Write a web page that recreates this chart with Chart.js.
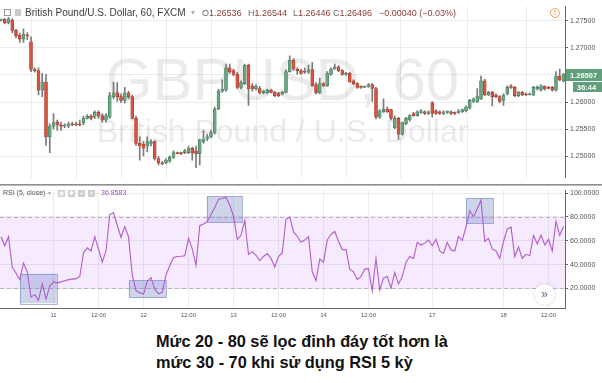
<!DOCTYPE html>
<html><head><meta charset="utf-8">
<script src="https://cdn.jsdelivr.net/npm/chart.js@4.4.1/dist/chart.umd.min.js"></script>
<style>
html,body{margin:0;padding:0;background:#fff;width:602px;height:383px;overflow:hidden;font-family:"Liberation Sans",Arial,sans-serif;}
#wrap{position:relative;width:602px;height:383px;}
canvas{position:absolute;left:0;}
#pc{top:0;}
#rc{top:184px;}
.t{position:absolute;white-space:nowrap;}
.ic{position:absolute;width:7px;height:7px;background:#cfcfcf;color:#fff;font-size:6px;line-height:7px;text-align:center;}
</style></head>
<body><div id="wrap">
<canvas id="pc" width="602" height="184"></canvas>
<canvas id="rc" width="602" height="142"></canvas>

<div class="t" style="left:4px;top:9px;width:5px;height:5px;border:1px solid #9a9a9a;"></div>
<div class="t" style="left:15px;top:9px;width:6px;height:7px;background:#c9c9c9;"></div>
<div class="t" style="left:25px;top:7px;font-size:10px;color:#3d3d3d;">British Pound/U.S. Dollar, 60, FXCM</div>
<div class="t" style="left:191px;top:8px;font-size:8px;color:#b0b0b0;">▾</div>
<div class="t" style="left:202px;top:8px;font-size:9px;color:#8d3b37;"><span style="color:#6a6a6a">O</span>1.26536</div>
<div class="t" style="left:248px;top:8px;font-size:9px;color:#8d3b37;"><span style="color:#6a6a6a">H</span>1.26544</div>
<div class="t" style="left:293px;top:8px;font-size:9px;color:#8d3b37;"><span style="color:#6a6a6a">L</span>1.26446</div>
<div class="t" style="left:333px;top:8px;font-size:9px;color:#8d3b37;"><span style="color:#6a6a6a">C</span>1.26496</div>
<div class="t" style="left:379px;top:8px;font-size:9px;color:#8d3b37;">−0.00040 (−0.03%)</div>
<div class="t" style="left:550px;top:8px;width:8px;height:8px;border:1.2px solid #f0a35a;border-radius:50%;color:#f0a35a;font-size:7px;line-height:8px;text-align:center;font-weight:bold;">!</div>

<div class="t" style="left:3px;top:189px;font-size:7px;color:#555;">RSI (5, close)</div>
<div class="t" style="left:48px;top:189px;font-size:6px;color:#aaa;">▾</div>
<div class="ic" style="left:58px;top:190px;">◉</div>
<div class="ic" style="left:68px;top:190px;">✱</div>
<div class="ic" style="left:78px;top:190px;">+</div>
<div class="ic" style="left:88px;top:190px;">×</div>
<div class="t" style="left:101px;top:189px;font-size:7px;color:#a24cc0;">36.8583</div>
<div class="t" style="left:534px;top:284px;width:21px;height:21px;border-radius:50%;background:#fff;box-shadow:0 0 2px rgba(0,0,0,0.25);color:#5d6f8a;font-size:12px;line-height:20px;text-align:center;">»</div>

<div class="t" style="left:156px;top:331px;font-weight:bold;font-size:17px;line-height:21px;color:#111;transform:scaleX(0.96);transform-origin:0 0;">Mức 20 - 80 sẽ lọc đỉnh đáy tốt hơn là<br>mức 30 - 70 khi sử dụng RSI 5 kỳ</div>
</div>
<script>
// ---- data (hourly GBP/USD candles) ----
const openP  = [1.2751,1.2753,1.2746,1.2751,1.2732,1.2723,1.2716,1.2723,1.2711,1.2660,1.2658,1.2622,1.2637,1.2536,1.2555,1.2563,1.2558,1.2556,1.2556,1.2560,1.2560,1.2560,1.2562,1.2570,1.2574,1.2572,1.2581,1.2575,1.2567,1.2572,1.2610,1.2617,1.2610,1.2603,1.2617,1.2610,1.2570,1.2524,1.2522,1.2519,1.2524,1.2527,1.2496,1.2488,1.2488,1.2491,1.2498,1.2507,1.2507,1.2507,1.2507,1.2515,1.2510,1.2505,1.2527,1.2532,1.2536,1.2543,1.2587,1.2620,1.2622,1.2663,1.2658,1.2651,1.2627,1.2634,1.2668,1.2630,1.2624,1.2625,1.2617,1.2617,1.2622,1.2618,1.2617,1.2615,1.2618,1.2656,1.2677,1.2661,1.2658,1.2656,1.2655,1.2660,1.2632,1.2617,1.2634,1.2630,1.2651,1.2661,1.2665,1.2658,1.2651,1.2653,1.2639,1.2634,1.2629,1.2627,1.2629,1.2632,1.2625,1.2572,1.2582,1.2587,1.2586,1.2553,1.2570,1.2541,1.2560,1.2567,1.2579,1.2575,1.2581,1.2582,1.2579,1.2599,1.2584,1.2582,1.2579,1.2581,1.2582,1.2581,1.2581,1.2582,1.2584,1.2589,1.2601,1.2601,1.2606,1.2639,1.2613,1.2618,1.2613,1.2610,1.2603,1.2615,1.2630,1.2627,1.2612,1.2618,1.2615,1.2613,1.2613,1.2624,1.2622,1.2629,1.2627,1.2627,1.2622,1.2648,1.2639];
const highP  = [1.2753,1.2754,1.2756,1.2754,1.2734,1.2727,1.2735,1.2728,1.2720,1.2663,1.2663,1.2653,1.2651,1.2560,1.2579,1.2567,1.2563,1.2560,1.2563,1.2563,1.2563,1.2567,1.2574,1.2577,1.2577,1.2584,1.2584,1.2579,1.2579,1.2618,1.2637,1.2636,1.2615,1.2627,1.2620,1.2613,1.2574,1.2536,1.2527,1.2536,1.2531,1.2529,1.2500,1.2491,1.2496,1.2501,1.2510,1.2508,1.2508,1.2513,1.2519,1.2517,1.2519,1.2532,1.2548,1.2541,1.2548,1.2591,1.2624,1.2641,1.2670,1.2670,1.2661,1.2655,1.2639,1.2670,1.2670,1.2634,1.2632,1.2629,1.2622,1.2624,1.2624,1.2620,1.2618,1.2620,1.2660,1.2685,1.2680,1.2663,1.2661,1.2663,1.2668,1.2673,1.2636,1.2644,1.2636,1.2656,1.2663,1.2670,1.2667,1.2660,1.2655,1.2655,1.2641,1.2636,1.2630,1.2630,1.2634,1.2634,1.2627,1.2586,1.2606,1.2591,1.2587,1.2574,1.2572,1.2563,1.2572,1.2577,1.2581,1.2584,1.2586,1.2584,1.2584,1.2601,1.2586,1.2584,1.2584,1.2584,1.2584,1.2582,1.2586,1.2587,1.2593,1.2605,1.2608,1.2625,1.2648,1.2642,1.2620,1.2620,1.2615,1.2612,1.2615,1.2630,1.2632,1.2629,1.2620,1.2620,1.2617,1.2617,1.2629,1.2630,1.2632,1.2630,1.2629,1.2629,1.2656,1.2661,1.2653];
const lowP   = [1.2749,1.2744,1.2744,1.2728,1.2718,1.2710,1.2710,1.2715,1.2656,1.2655,1.2613,1.2610,1.2520,1.2507,1.2550,1.2548,1.2548,1.2553,1.2553,1.2556,1.2556,1.2556,1.2558,1.2569,1.2567,1.2570,1.2570,1.2563,1.2563,1.2570,1.2606,1.2601,1.2599,1.2598,1.2606,1.2569,1.2520,1.2493,1.2501,1.2508,1.2519,1.2493,1.2484,1.2484,1.2486,1.2489,1.2496,1.2505,1.2503,1.2505,1.2505,1.2493,1.2479,1.2484,1.2524,1.2529,1.2534,1.2541,1.2586,1.2618,1.2620,1.2653,1.2648,1.2624,1.2624,1.2632,1.2594,1.2620,1.2622,1.2615,1.2615,1.2615,1.2617,1.2610,1.2610,1.2613,1.2617,1.2655,1.2658,1.2651,1.2651,1.2653,1.2653,1.2629,1.2615,1.2615,1.2629,1.2629,1.2649,1.2660,1.2656,1.2649,1.2649,1.2636,1.2632,1.2625,1.2625,1.2627,1.2627,1.2601,1.2569,1.2570,1.2581,1.2581,1.2567,1.2551,1.2531,1.2539,1.2558,1.2565,1.2574,1.2574,1.2579,1.2577,1.2577,1.2572,1.2577,1.2577,1.2577,1.2579,1.2577,1.2577,1.2579,1.2581,1.2582,1.2587,1.2599,1.2599,1.2605,1.2612,1.2612,1.2593,1.2608,1.2599,1.2594,1.2613,1.2625,1.2610,1.2610,1.2612,1.2612,1.2613,1.2612,1.2622,1.2620,1.2622,1.2624,1.2620,1.2620,1.2639,1.2637];
const closeP = [1.2751,1.2746,1.2753,1.2732,1.2722,1.2716,1.2725,1.2722,1.2660,1.2658,1.2622,1.2637,1.2536,1.2556,1.2562,1.2558,1.2555,1.2558,1.2560,1.2558,1.2558,1.2558,1.2570,1.2574,1.2570,1.2581,1.2574,1.2567,1.2575,1.2612,1.2617,1.2610,1.2603,1.2617,1.2610,1.2570,1.2524,1.2519,1.2515,1.2527,1.2527,1.2496,1.2488,1.2486,1.2493,1.2498,1.2507,1.2505,1.2505,1.2510,1.2515,1.2507,1.2505,1.2531,1.2532,1.2536,1.2544,1.2587,1.2620,1.2624,1.2663,1.2656,1.2651,1.2627,1.2636,1.2668,1.2624,1.2624,1.2629,1.2617,1.2620,1.2622,1.2618,1.2612,1.2612,1.2618,1.2656,1.2677,1.2661,1.2658,1.2653,1.2655,1.2660,1.2630,1.2617,1.2634,1.2630,1.2653,1.2661,1.2665,1.2658,1.2651,1.2653,1.2637,1.2634,1.2627,1.2627,1.2629,1.2632,1.2625,1.2572,1.2584,1.2587,1.2582,1.2570,1.2570,1.2541,1.2562,1.2570,1.2575,1.2575,1.2582,1.2584,1.2579,1.2582,1.2579,1.2579,1.2579,1.2582,1.2582,1.2579,1.2579,1.2584,1.2586,1.2591,1.2603,1.2606,1.2610,1.2639,1.2613,1.2618,1.2610,1.2610,1.2601,1.2613,1.2627,1.2627,1.2612,1.2618,1.2613,1.2613,1.2615,1.2627,1.2627,1.2630,1.2624,1.2625,1.2622,1.2648,1.2641,1.26507];
const rsiVals = [63.4,55.8,63.4,38,32.7,27.4,41.4,34,12.7,14.8,10,23.9,11.3,22,25.5,24.7,25.5,26.5,27.4,27.8,28.2,30,50,54,51.4,63.4,53,42,51.4,82,83.4,73,62.8,71.9,63.4,31.4,18,16.5,15.4,26,29.2,19.4,15.4,16.7,31.4,39,46,46.8,47,47.4,62,53.2,39.4,72.6,74,76.2,82,87.8,94.8,95.4,96.4,90,80.6,61.2,64.6,77.2,48.6,50.8,47.8,43.4,46.8,49.2,45.2,38,46.8,50,78,79.8,67.4,63.8,59,60.6,63.4,34,26.6,44.6,42,60.6,65.4,67.8,59.4,52.6,52.6,36.2,34,27.4,30,36.2,36.6,18,45.2,18.6,28.6,30,20.2,33.4,23.8,30,42,46.8,45.2,58.6,56.4,58,60.6,55.8,61.2,51.4,49.4,58.6,52.2,51.4,63.4,60.2,71.4,85.2,80.2,86.8,94,59.4,62,53.2,51.4,45.2,59.4,70,71.4,46.8,54.8,45.2,48.6,47.4,64.6,57.4,64.6,56.6,61.2,51.4,76.2,64.6,71.9];
const timeTickBars   = [14,26,38,50,62,74,86,98,115,134,146];
const timeTickLabels = ['11','12:00','12','12:00','13','12:00','14','12:00','17','18','12:00'];
const priceTicks = [1.25,1.255,1.26,1.265,1.27,1.275];
const rsiTicks   = [20,40,60,80,100];
const rsiBand    = [20,80];
// highlighted zones on the RSI pane: [fromBar, toBar, lowRSI, highRSI]
const zoneFromBar = [5.1, 34.1, 54.9, 124.0];
const zoneToBar   = [14.9, 44.0, 64.3, 131.2];
const zoneLow     = [7.6, 12.2, 75.4, 74.5];
const zoneHigh    = [32.4, 26.8, 97.2, 95.8];
const lastPriceText = '1.26507';
const countdownText = '36:44';

// ---- styles ----
const UP='#6ba583', DN='#d75442', UPB='#3f7d5a', DNB='#a83a2c', WICK='#7b7b7d';
const XMIN=-0.27, XMAX=150.4;
const N=openP.length;
const isUp=openP.map((o,i)=>closeP[i]>=o);
Chart.defaults.font.family='"Liberation Sans", Arial, sans-serif';

const watermark={id:'wm',beforeDatasetsDraw(c){
  const a=c.chartArea,ctx=c.ctx;ctx.save();
  ctx.fillStyle='rgba(110,110,110,0.14)';ctx.textAlign='center';ctx.textBaseline='alphabetic';
  const cx=(a.left+a.right)/2;
  ctx.font='60px "Liberation Sans", Arial, sans-serif';ctx.fillText('GBPUSD, 60',cx,100);
  ctx.font='32px "Liberation Sans", Arial, sans-serif';ctx.fillText('British Pound / U.S. Dollar',cx,142);
  ctx.restore();}};
const priceTag={id:'tag',afterDraw(c){
  const ctx=c.ctx,a=c.chartArea,y=c.scales.y.getPixelForValue(closeP[N-1]);ctx.save();
  ctx.fillStyle='#5f9f7a';ctx.fillRect(a.right+1,Math.round(y)-6,36,12);
  ctx.fillRect(a.right+8,Math.round(y)+7,29,10);
  ctx.fillStyle='#fff';ctx.font='bold 7.5px "Liberation Sans", Arial';ctx.textBaseline='middle';ctx.textAlign='left';
  ctx.fillText(lastPriceText,a.right+5,Math.round(y)+0.5);
  ctx.fillText(countdownText,a.right+12,Math.round(y)+12.5);
  ctx.restore();}};

new Chart(document.getElementById('pc'),{
  type:'bar',
  data:{datasets:[
    {data:highP.map((h,i)=>({x:i,y:[lowP[i],h]})),backgroundColor:WICK,barThickness:1,grouped:false,order:2},
    {data:openP.map((o,i)=>({x:i,y:[o,closeP[i]]})),backgroundColor:isUp.map(u=>u?UP:DN),borderColor:isUp.map(u=>u?UPB:DNB),
     borderWidth:0.6,borderSkipped:false,barThickness:3,grouped:false,minBarLength:1,order:1}
  ]},
  options:{responsive:false,animation:false,events:[],layout:{padding:0},
    plugins:{legend:{display:false},tooltip:{enabled:false}},
    scales:{
      x:{type:'linear',min:XMIN,max:XMAX,offset:false,
         afterBuildTicks:s=>{s.ticks=timeTickBars.map(v=>({value:v}));},
         ticks:{display:false},grid:{color:'#ececec',drawTicks:false},border:{display:false},
         afterFit:s=>{s.height=0;}},
      y:{position:'right',min:1.24605,max:1.27766,
         afterBuildTicks:s=>{s.ticks=priceTicks.map(v=>({value:v}));},
         ticks:{callback:v=>v.toFixed(5),font:{size:7},color:'#555',padding:2},
         grid:{color:'#ececec',tickLength:3,tickColor:'#666'},border:{color:'#666'},
         afterFit:s=>{s.width=37;}}
    }},
  plugins:[watermark,priceTag]
});

const rsiDecor={id:'rsiDecor',beforeDatasetsDraw(c){
  const ctx=c.ctx,a=c.chartArea,ys=c.scales.y,xs=c.scales.x;ctx.save();
  const yTop=ys.getPixelForValue(rsiBand[1]),yBot=ys.getPixelForValue(rsiBand[0]);
  ctx.fillStyle='rgba(153,21,255,0.09)';ctx.fillRect(a.left,yTop,a.right-a.left,yBot-yTop);
  ctx.strokeStyle='#bfb0c4';ctx.lineWidth=1;ctx.setLineDash([4,3]);
  [yTop,yBot].forEach(y=>{ctx.beginPath();ctx.moveTo(a.left,Math.round(y)+0.5);ctx.lineTo(a.right,Math.round(y)+0.5);ctx.stroke();});
  ctx.setLineDash([]);
  for(let k=0;k<zoneFromBar.length;k++){
    const x0=xs.getPixelForValue(zoneFromBar[k]),x1=xs.getPixelForValue(zoneToBar[k]);
    const y0=ys.getPixelForValue(zoneHigh[k]),y1=ys.getPixelForValue(zoneLow[k]);
    ctx.fillStyle='rgba(105,125,190,0.33)';ctx.fillRect(x0,y0,x1-x0,y1-y0);
    ctx.strokeStyle='rgba(105,125,190,0.55)';ctx.strokeRect(Math.round(x0)+0.5,Math.round(y0)+0.5,Math.round(x1-x0),Math.round(y1-y0));
  }
  ctx.restore();},
  afterDraw(c){const ctx=c.ctx;ctx.save();ctx.fillStyle='#8e8e8e';ctx.fillRect(0,0,602,1.6);ctx.restore();}};

new Chart(document.getElementById('rc'),{
  type:'line',
  data:{datasets:[{data:rsiVals.map((v,i)=>({x:i,y:v})),borderColor:'#b25bcc',borderWidth:1.1,pointRadius:0,tension:0,fill:false}]},
  options:{responsive:false,animation:false,events:[],layout:{padding:{top:1,left:0,right:0,bottom:0}},
    plugins:{legend:{display:false},tooltip:{enabled:false}},
    scales:{
      x:{type:'linear',min:XMIN,max:XMAX,offset:false,
         afterBuildTicks:s=>{s.ticks=timeTickBars.map(v=>({value:v}));},
         ticks:{callback:(v,i)=>timeTickLabels[i],font:{size:6},color:'#555',padding:4,autoSkip:false,maxRotation:0},
         grid:{color:'#ececec',drawTicks:false},border:{color:'#666'},
         afterFit:s=>{s.height=18;}},
      y:{position:'right',min:3.6,max:102.4,
         afterBuildTicks:s=>{s.ticks=rsiTicks.map(v=>({value:v}));},
         ticks:{callback:v=>v.toFixed(4),font:{size:7},color:'#555',padding:2},
         grid:{color:'#ececec',tickLength:3,tickColor:'#666'},border:{color:'#666'},
         afterFit:s=>{s.width=37;}}
    }},
  plugins:[rsiDecor]
});
</script>
</body></html>
